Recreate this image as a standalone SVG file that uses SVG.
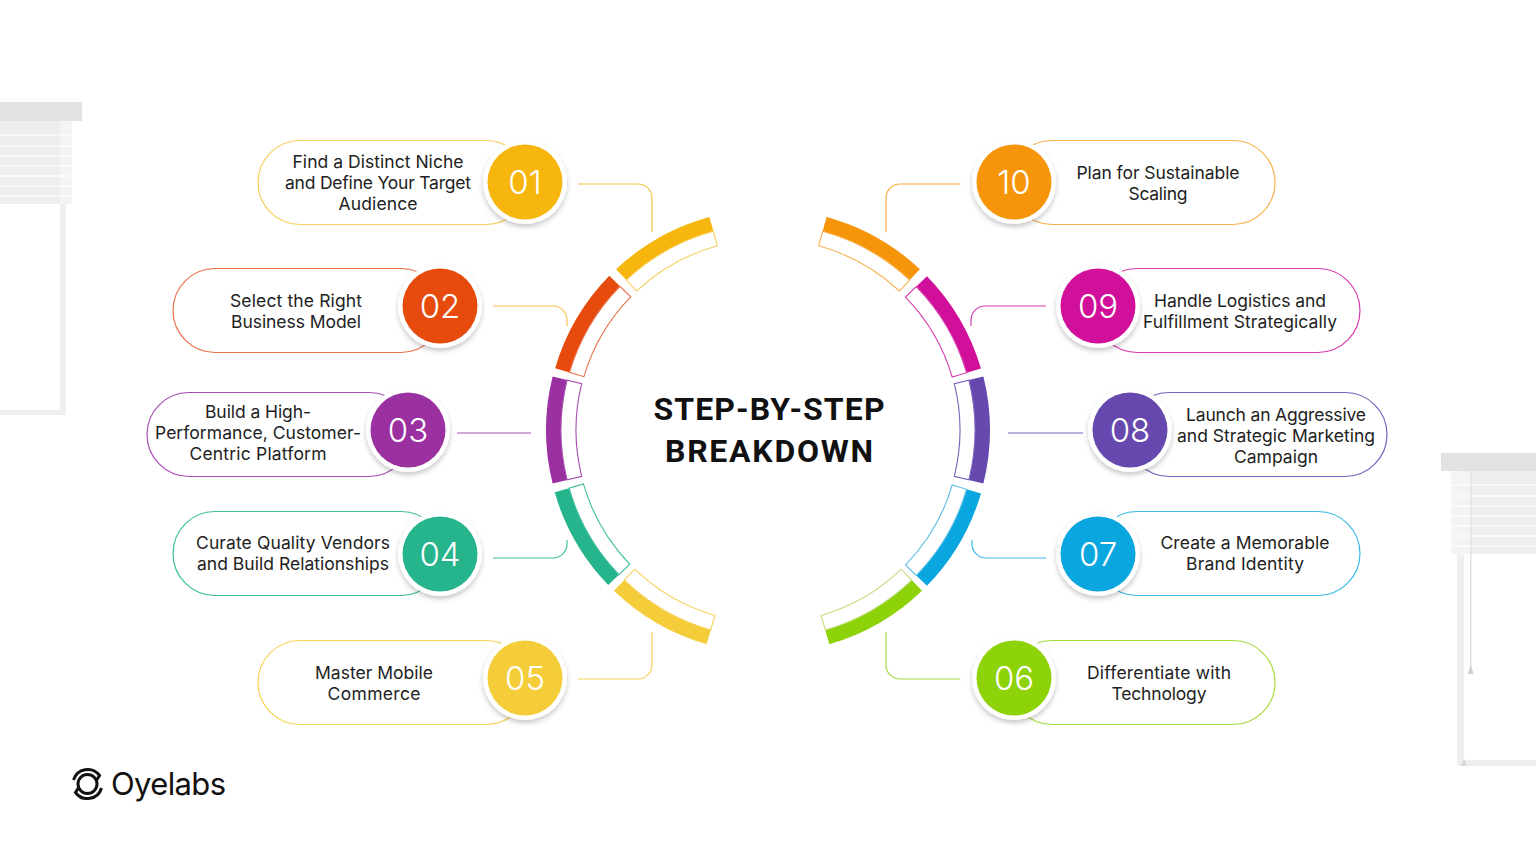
<svg xmlns="http://www.w3.org/2000/svg" width="1536" height="864" viewBox="0 0 1536 864">
<style>
.t{font-family:Inter,"Liberation Sans",sans-serif;font-size:17.5px;fill:#222;text-anchor:middle}
.n{font-family:Inter,Lato,sans-serif;font-size:33px;font-weight:350;fill:#fff;text-anchor:middle}
.h{font-family:Roboto,"Liberation Sans",sans-serif;font-size:32px;font-weight:700;fill:#111;text-anchor:middle}
.p{fill:#fff;stroke-width:1.2}
.c{fill:none;stroke-width:1.2}
.o{fill:#fff;stroke-width:1.1}
.b{fill:#efefef}
.g{fill:#e2e2e2}
.s{fill:#eeeeee}
</style>
<defs>
<filter id="sh" x="-30%" y="-30%" width="160%" height="160%"><feDropShadow dx="0" dy="3" stdDeviation="2.500" flood-color="#000" flood-opacity="0.22"/></filter>
<path id="band" d="M-53.500-215.400A222 222 0 0 1 53.500-215.400L49.900-200.900A207 207 0 0 0-49.900-200.900Z"/>
<path id="line" d="M-49.900-200.900A207 207 0 0 1 49.900-200.900L46.300-186.300A192 192 0 0 0-46.300-186.300Z"/>
</defs>
<rect width="1536" height="864" fill="#fff"/>
<g id="blind-left">
<rect class="b" x="60" y="204" width="6" height="211"/><rect class="b" x="0" y="410" width="66" height="5"/>
<rect class="s" x="0" y="121" width="72" height="83"/>
<g fill="#fff" opacity=".6"><rect y="134" width="72" height="2"/><rect y="145" width="72" height="2"/><rect y="155" width="72" height="2"/><rect y="165" width="72" height="2"/><rect y="175" width="72" height="2"/><rect y="185" width="72" height="2"/><rect y="195" width="72" height="2"/></g>
<rect x="60" y="121" width="12" height="83" fill="#fff" opacity=".35"/>
<rect class="g" x="0" y="102" width="82" height="19"/>
</g>
<g id="blind-right">
<rect class="b" x="1457" y="554" width="7" height="212"/><rect class="b" x="1457" y="760" width="79" height="6"/>
<rect class="s" x="1451" y="471" width="85" height="83"/>
<g fill="#fff" opacity=".6"><rect x="1451" y="484" width="85" height="2"/><rect x="1451" y="495" width="85" height="2"/><rect x="1451" y="505" width="85" height="2"/><rect x="1451" y="515" width="85" height="2"/><rect x="1451" y="525" width="85" height="2"/><rect x="1451" y="535" width="85" height="2"/><rect x="1451" y="545" width="85" height="2"/></g>
<rect x="1451" y="471" width="20" height="83" fill="#fff" opacity=".35"/>
<rect x="1470" y="471" width="1.500" height="198" fill="#e2e2e2"/><path d="M1470.700 664L1473.500 674H1468Z" fill="#d0d0d0"/>
<path d="M1464 758L1467 766H1461Z" fill="#d8d8d8"/>
<rect class="g" x="1441" y="453" width="95" height="18"/>
</g>
<g id="connectors">
<path class="c" stroke="#f6c244" d="M578 184H638A14 14 0 0 1 652 198V232"/>
<path class="c" stroke="#f5c24a" d="M493 306H553A14 14 0 0 1 567 320V326"/>
<path class="c" stroke="#a64db0" d="M457 433H531"/>
<path class="c" stroke="#3cbf9c" d="M493 558H553A14 14 0 0 0 567 544V540"/>
<path class="c" stroke="#f5d256" d="M578 679H638A14 14 0 0 0 652 665V632"/>
<path class="c" stroke="#a6da3c" d="M960 679H900A14 14 0 0 1 886 665V632"/>
<path class="c" stroke="#3cb8e6" d="M1046 558H986A14 14 0 0 1 972 544V540"/>
<path class="c" stroke="#7a60ba" d="M1083 433H1008"/>
<path class="c" stroke="#d63cae" d="M1046 306H985A14 14 0 0 0 971 320V326"/>
<path class="c" stroke="#f7a93c" d="M960 184H900A14 14 0 0 0 886 198V232"/>
</g>
<g id="ring">
<g transform="translate(768 431) rotate(-29.25)"><use href="#band" fill="#f6b60d"/><use href="#line" class="o" stroke="#f6cf5c"/></g>
<g transform="translate(768 431) rotate(-59.6)"><use href="#band" fill="#e64a0d"/><use href="#line" class="o" stroke="#e8714a"/></g>
<g transform="translate(768 430) rotate(-90)"><use href="#band" fill="#9b30a0"/><use href="#line" class="o" stroke="#a64db0"/></g>
<g transform="translate(768 431) rotate(-120)"><use href="#band" fill="#26b48c"/><use href="#line" class="o" stroke="#3cbf9c"/></g>
<g transform="translate(768 431) rotate(-150)"><use href="#band" fill="#f5cd3a"/><use href="#line" class="o" stroke="#f5d256"/></g>
<g transform="translate(768 431) rotate(150)"><use href="#band" fill="#8ed20a"/><use href="#line" class="o" stroke="#c0dc7a"/></g>
<g transform="translate(768 431) rotate(120.300)"><use href="#band" fill="#0aa6e0"/><use href="#line" class="o" stroke="#5cbfe6"/></g>
<g transform="translate(768 430) rotate(90)"><use href="#band" fill="#6648ae"/><use href="#line" class="o" stroke="#7a60ba"/></g>
<g transform="translate(768 431) rotate(59.700)"><use href="#band" fill="#d0109a"/><use href="#line" class="o" stroke="#d63cae"/></g>
<g transform="translate(768 431) rotate(29.25)"><use href="#band" fill="#f7950a"/><use href="#line" class="o" stroke="#f7b04c"/></g>
</g>
<g id="title"><text class="h" x="769" y="420" textLength="231">STEP-BY-STEP</text><text class="h" x="769" y="462" textLength="208">BREAKDOWN</text></g>
<g id="node-01"><rect class="p" stroke="#f6cf5c" x="258" y="140.500" width="270" height="84" rx="42"/><circle cx="525" cy="182" r="42" fill="#fff" filter="url(#sh)"/><circle cx="525" cy="182" r="37.500" fill="#f6b60d"/><text class="n" x="525" y="193.500">01</text>
<text class="t" x="378" y="168" textLength="171">Find a Distinct Niche</text><text class="t" x="378" y="189" textLength="186">and Define Your Target</text><text class="t" x="378" y="210" textLength="79">Audience</text></g>
<g id="node-02"><rect class="p" stroke="#e8714a" x="173" y="268.500" width="270" height="84" rx="42"/><circle cx="440" cy="306" r="42" fill="#fff" filter="url(#sh)"/><circle cx="440" cy="306" r="37.500" fill="#e64a0d"/><text class="n" x="440" y="317.500">02</text>
<text class="t" x="296" y="307" textLength="132">Select the Right</text><text class="t" x="296" y="327.500" textLength="130">Business Model</text></g>
<g id="node-03"><rect class="p" stroke="#a64db0" x="147" y="392.500" width="264" height="84" rx="42"/><circle cx="408" cy="430" r="42" fill="#fff" filter="url(#sh)"/><circle cx="408" cy="430" r="37.500" fill="#9b30a0"/><text class="n" x="408" y="441.500">03</text>
<text class="t" x="258" y="418" textLength="106">Build a High-</text><text class="t" x="258" y="439" textLength="206">Performance, Customer-</text><text class="t" x="258" y="460" textLength="137">Centric Platform</text></g>
<g id="node-04"><rect class="p" stroke="#3cbf9c" x="173" y="511.500" width="270" height="84" rx="42"/><circle cx="440" cy="554" r="42" fill="#fff" filter="url(#sh)"/><circle cx="440" cy="554" r="37.500" fill="#26b48c"/><text class="n" x="440" y="565.500">04</text>
<text class="t" x="293" y="549" textLength="194">Curate Quality Vendors</text><text class="t" x="293" y="570" textLength="192">and Build Relationships</text></g>
<g id="node-05"><rect class="p" stroke="#f5d256" x="258" y="640.500" width="270" height="84" rx="42"/><circle cx="525" cy="678" r="42" fill="#fff" filter="url(#sh)"/><circle cx="525" cy="678" r="37.500" fill="#f5cd3a"/><text class="n" x="525" y="689.500">05</text>
<text class="t" x="374" y="679" textLength="118">Master Mobile</text><text class="t" x="374" y="700" textLength="93">Commerce</text></g>
<g id="node-06"><rect class="p" stroke="#a6da3c" x="1010" y="640.500" width="265" height="84" rx="42"/><circle cx="1014" cy="678" r="42" fill="#fff" filter="url(#sh)"/><circle cx="1014" cy="678" r="37.500" fill="#8ed20a"/><text class="n" x="1014" y="689.500">06</text>
<text class="t" x="1159" y="679" textLength="144">Differentiate with</text><text class="t" x="1159" y="700" textLength="95">Technology</text></g>
<g id="node-07"><rect class="p" stroke="#3cb8e6" x="1095" y="511.500" width="265" height="84" rx="42"/><circle cx="1098" cy="554" r="42" fill="#fff" filter="url(#sh)"/><circle cx="1098" cy="554" r="37.500" fill="#0aa6e0"/><text class="n" x="1098" y="565.500">07</text>
<text class="t" x="1245" y="549" textLength="169">Create a Memorable</text><text class="t" x="1245" y="570" textLength="118">Brand Identity</text></g>
<g id="node-08"><rect class="p" stroke="#7a60ba" x="1127" y="392.500" width="260" height="84" rx="42"/><circle cx="1130" cy="430" r="42" fill="#fff" filter="url(#sh)"/><circle cx="1130" cy="430" r="37.500" fill="#6648ae"/><text class="n" x="1130" y="441.500">08</text>
<text class="t" x="1276" y="421" textLength="180">Launch an Aggressive</text><text class="t" x="1276" y="442" textLength="198">and Strategic Marketing</text><text class="t" x="1276" y="463" textLength="84">Campaign</text></g>
<g id="node-09"><rect class="p" stroke="#d63cae" x="1095" y="268.500" width="265" height="84" rx="42"/><circle cx="1098" cy="306" r="42" fill="#fff" filter="url(#sh)"/><circle cx="1098" cy="306" r="37.500" fill="#d0109a"/><text class="n" x="1098" y="317.500">09</text>
<text class="t" x="1240" y="307" textLength="172">Handle Logistics and</text><text class="t" x="1240" y="327.500" textLength="194">Fulfillment Strategically</text></g>
<g id="node-10"><rect class="p" stroke="#f7b04c" x="1010" y="140.500" width="265" height="84" rx="42"/><circle cx="1014" cy="182" r="42" fill="#fff" filter="url(#sh)"/><circle cx="1014" cy="182" r="37.500" fill="#f7950a"/><text class="n" x="1014" y="193.500">10</text>
<text class="t" x="1158" y="179" textLength="163">Plan for Sustainable</text><text class="t" x="1158" y="200" textLength="59">Scaling</text></g>
<g id="logo">
<g fill="none" stroke="#111"><circle cx="87.500" cy="784" r="9.500" stroke-width="3"/><g stroke-width="3"><path d="M73.500 780A14.700 14.700 0 0 1 99.500 775.500L96 781"/><path d="M101.500 788A14.700 14.700 0 0 1 75.500 792.500L79 787"/></g></g>
<text x="111" y="795" font-family="Inter,sans-serif" font-size="31" font-weight="400" fill="#111" textLength="115">Oyelabs</text>
</g>
</svg>
